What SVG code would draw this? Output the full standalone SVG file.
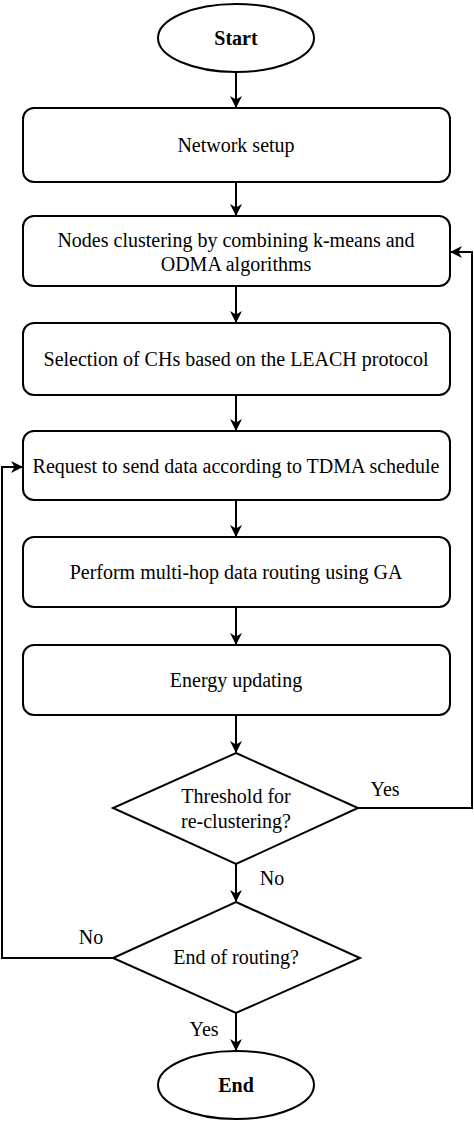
<svg xmlns="http://www.w3.org/2000/svg" width="474" height="1121" viewBox="0 0 474 1121">
<style>
.s{fill:#fff;stroke:#000;stroke-width:2}
.t{font-family:'Liberation Serif','Times New Roman','DejaVu Serif',serif;font-size:20px;fill:#000;text-anchor:middle}
.b{font-weight:bold}
.c{fill:none;stroke:#000;stroke-width:2}
</style>
<defs>
<marker id="a" viewBox="0 0 12 12" refX="11" refY="6" markerWidth="12" markerHeight="12" markerUnits="userSpaceOnUse" orient="auto">
<path d="M0,0 L12,6 L0,12 L3.5,6 z" fill="#000"/>
</marker>
</defs>
<rect width="474" height="1121" fill="#fff"/>
<g id="connectors">
<path class="c" d="M236,72 V107" marker-end="url(#a)"/>
<path class="c" d="M236,183 V215" marker-end="url(#a)"/>
<path class="c" d="M236,287 V322" marker-end="url(#a)"/>
<path class="c" d="M236,396 V430" marker-end="url(#a)"/>
<path class="c" d="M236,501 V536" marker-end="url(#a)"/>
<path class="c" d="M236,608 V644" marker-end="url(#a)"/>
<path class="c" d="M236,716 V752" marker-end="url(#a)"/>
<path class="c" d="M358,808 H472 V252 H451" marker-end="url(#a)"/>
<path class="c" d="M236,864 V901" marker-end="url(#a)"/>
<path class="c" d="M113,958 H2 V467 H22" marker-end="url(#a)"/>
<path class="c" d="M236,1013 V1050" marker-end="url(#a)"/>
<text class="t" x="385" y="796">Yes</text>
<text class="t" x="272" y="885">No</text>
<text class="t" x="91" y="944">No</text>
<text class="t" x="204" y="1036">Yes</text>
</g>
<g id="start"><ellipse class="s" cx="236" cy="38" rx="78" ry="34"/><text class="t b" x="236" y="45">Start</text></g>
<g id="setup"><rect class="s" x="23" y="108" width="427" height="74" rx="11"/><text class="t" x="236" y="152">Network setup</text></g>
<g id="clustering"><rect class="s" x="23" y="216" width="427" height="70" rx="11"/><text class="t" x="236" y="247">Nodes clustering by combining k-means and</text><text class="t" x="236" y="271">ODMA algorithms</text></g>
<g id="selection"><rect class="s" x="23" y="323" width="427" height="72" rx="11"/><text class="t" x="236" y="366">Selection of CHs based on the LEACH protocol</text></g>
<g id="request"><rect class="s" x="23" y="431" width="427" height="69" rx="11"/><text class="t" x="236" y="473">Request to send data according to TDMA schedule</text></g>
<g id="routing"><rect class="s" x="23" y="537" width="427" height="70" rx="11"/><text class="t" x="236" y="579">Perform multi-hop data routing using GA</text></g>
<g id="energy"><rect class="s" x="23" y="645" width="427" height="70" rx="11"/><text class="t" x="236" y="687">Energy updating</text></g>
<g id="threshold"><polygon class="s" points="236,753 358,808 236,864 113,808"/><text class="t" x="236" y="803">Threshold for</text><text class="t" x="236" y="828">re-clustering?</text></g>
<g id="endrouting"><polygon class="s" points="236,902 360,958 236,1013 113,958"/><text class="t" x="236" y="964">End of routing?</text></g>
<g id="end"><ellipse class="s" cx="236" cy="1085" rx="78" ry="34"/><text class="t b" x="236" y="1092">End</text></g>
</svg>
